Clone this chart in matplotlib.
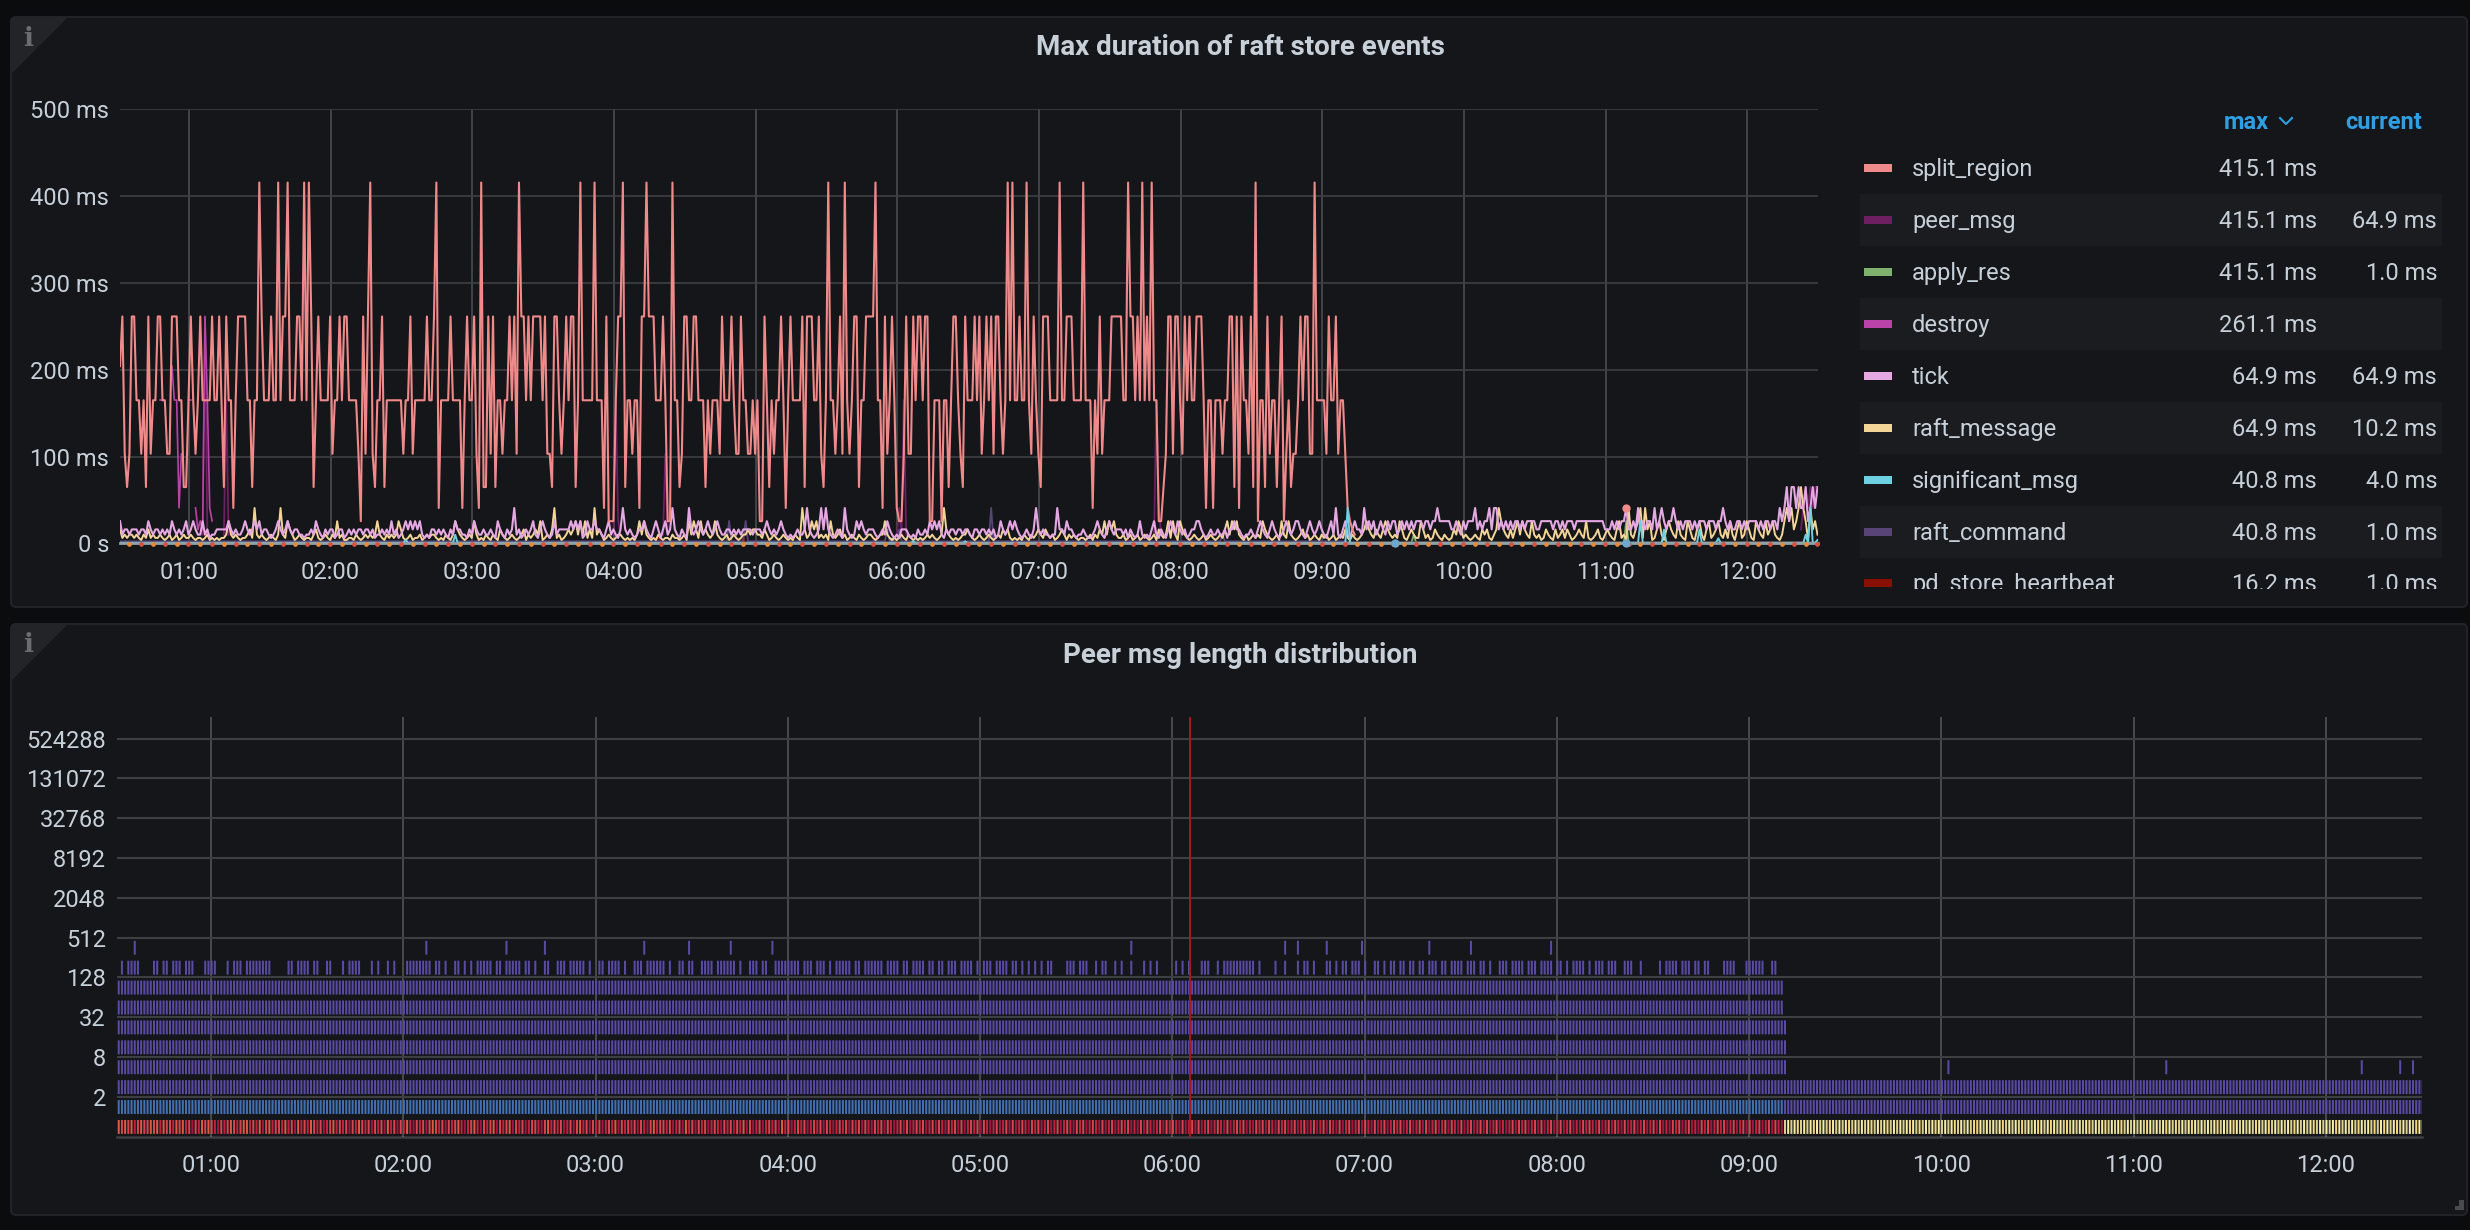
#-*- coding:utf-8 -*-
import numpy as np
import matplotlib
matplotlib.use("Agg")
import matplotlib.pyplot as plt
from matplotlib.patches import FancyBboxPatch, Polygon, Rectangle

plt.rcParams['font.family'] = ['Roboto', 'DejaVu Sans']

# level codes, the panel shows these bucket values only
levels = {'A': 415.1, 'B': 261.1, 'H': 204.0, 'C': 164.7, 'D': 103.2, 'E': 64.9, 'F': 40.8,
          'G': 25.7, 'I': 16.2, 'J': 10.2, 'K': 6.4, 'L': 4.0, 'M': 2.5, 'N': 1.0}

split_region = ("HBDEDBBCCD" "CEBDCCBBCC" "DDBBBCCEEC" "BCDCBCCCCB" "CCBCEBCCFC" "BBBBCCECCA" "BCCCBCCACB"
                "BACCCBBCAC" "ABECBCCCCB" "DCCBCBBCCC" "CDGBDB"
                "ADECCBECCC" "CCCCDCCBDC" "CCCCBCCBAF" "CCCCBCCCCF" "CBCCBDFAEE" "BDBECCDCCB" "CBDABBCBCB"
                "BBBCBDDEBB" "CDCBCBBECA" "CCCCCACCCF" "BGGGCB"
                "BAECCDCCFB" "BABBBCCCBC" "GGACCEDBBC" "CBBCCCECDC" "CCDBCCCBCD" "DBCCDDCDCG" "GBCECDCCBC"
                "FCBCCCCBEB" "BBCCBDECAC" "CDCBDACDCB" "BECCBB"
                "BBACCFBDCB" "CFGGDBDDBC" "BBCBBGGCCC" "GCCECBBCDE" "BCCCBCBDCB" "CBDBBCDCAC" "ACCBCCACDB"
                "CDEBBBCCCC" "ACCBBBCCCC" "ACCCFCDBDC" "CCBBBB"
                "BCCABBCBCA" "CBCACCGGED" "BBDBBCDBCB" "CCBBBCFCCF" "CCCDCCBBEB" "FBCCDBEAGC" "CEBDCCECBG"
                "DCEDDCBCBB" "DDACCCCDBC" "CBDCCDFGIJ")

tick = ("GJIIJIIIJI" "IJGIJIIJIJ" "IJGIJIJIGJ" "IGIJJGJIKJ" "JIIIIIGIJI" "JJIGIJIGIG" "JIIJKJIGIJ"
        "IGIJIIJJKJ" "JIJGIJKIJI" "IKJIIKJIJI" "JIIJII"
        "JIKJJIJIJG" "JIKJIGIGIG" "IGJKJKIIJI" "JIJKIJGIIJ" "JKIJGIJJIJ" "JIJKGIJKIJ" "IFJIKJIJIG"
        "JKIGIJKJGJ" "IIIIIGIGIG" "KJGIIGIIJK" "IGJIJK"
        "IFIJIJKJII" "GIJKIGIKIG" "JIFIJKIJKF" "IJIGIJIGIJ" "IGIJJIIJIJ" "IJIIIIJIII" "JIGIJIJIGI"
        "JKJKJIJJIF" "IJKJIFIFIJ" "KJIJKFIJKJ" "GIGIJI"
        "IIJKJIJGIJ" "KJKIIIJKJK" "IJJIJGIGIG" "JKIJIIJIIJ" "IIJKIIJIIJ" "IJIKJGIJIG" "IGIJKJIJKI"
        "FIJIJJKJJF" "IIJGIIJKJJ" "IJKKJIGIJK" "IGIJII"
        "IJIKIJKJGJ" "KJKIGJKIJK" "IGIJGIJIKJ" "IIGGIJKJIJ" "JIJJIKIIGI" "IJKJJIJKIG" "IJKIGIJKJI"
        "GIJIGGIJKI" "GIJIGIJKIG" "JFJKIGJKIG" "IIJFIG"
        "IGJIGIJGIG" "GJIGIGIGIG" "GGIGGIGGFG" "GGGGIIGIJG" "IGGGFIGIGG" "FIFFIGIGIG" "IGGIGIGGGG"
        "IIGGGGGIGG" "IGIGGGIGGG" "GGGGGGGGGI" "IIGIGIGGFI" "IGIFIGIGGI" "FIGFGIGGFG" "IGIGGGIGIG"
        "GGIGGGIGGF" "GIGIIGGIGI" "GGGGIGIGGI" "GGIFGFEGEE" "FEFFEGFEFE")

raft_message = ("IKJKJJKJKL" "JKIKJKKJKL" "KJLKJLKJKK" "JKLKKLKJLK" "LKLKKJGJKJ" "KLKKJIKFJK" "JKLKJKLJFJ"
                "KGIJLKJKLK" "KLJIKLKJKL" "JKGKJLLKKL" "JKLKJK"
                "JKJGJKLJKJ" "KJGIKLKJLK" "KJLKJKJJKL" "KLJKLJGIJK" "LKJKGJLKLJ" "KLJKLIJKLK" "JKLKJILJKJ"
                "IJGLKJKIFK" "JLKJIJIGJG" "JGKIKFJIJL" "KJKLKJ"
                "JKLKLKLJGJ" "GJKLKLJKLK" "KLJKKLKJLG" "JGIKGJIJKJ" "GJKLKJLKJK" "LKJJIJIIJJ" "KIJLKJKLKJ"
                "KLKLJKLFIK" "JGIGKJKJLG" "JKJIKJLKJK" "LJKLKJ"
                "JKLKJJGJKL" "KLKJKLJKLK" "LKLKJKJKLK" "JFIJKLKLKJ" "JIJKLKJKLK" "JKLKJKIJIK" "LKLKLJKLJK"
                "JIJKIJKJLK" "JIJLJKJKLK" "KLKJLJKIJG" "JGIGJK"
                "KJLKJLKJLK" "JKLKJLIJKJ" "GKGJLGIJKL" "KJKLKJLKJK" "LKJKIGJGIG" "JKLJLKJKJK" "GIJKLKJLGJ"
                "KGJKLKJIKJ" "LKJKLJKJLK" "JLKJKIKLJK" "LKJIGI"
                "JKIJKIGIJK" "JKGIKLJIJK" "KGIKJLKIJK" "LJKLKIJGIK" "JKLKJKLIJI" "KLJIFGIJKI" "KIGJGIJKGJ"
                "KJLKIJKLIK" "JIKIJLKJIJ" "KGKLKJIKLJ" "IJKLIGKJLF" "JKIGFKFIGL" "KIGJLIGIJK" "GJKLGIKLIG"
                "JLIGKJIGJK" "IKGJLIGKJG" "IKLGIJKGJI" "GJKLJGFGFI" "GFEFGLFIGJ")

nan = float('nan')
destroy_idx = [17, 18, 19, 22, 23, 24, 25, 26, 27, 29, 30, 31, 32, 33, 34, 35, 36, 37, 38, 39, 40]
destroy_val = [165, 165, nan, 204, 165, 165, 41, 103, nan, 165, 165, nan, 41, 16, 26, 16, 261, 165, 41, 26, nan]
peer_idx = [35, 36, 37, 44, 45, 46, 209, 210, 211, 212, 230, 231, 232, 329, 330, 331, 332, 333, 438, 439, 440, 441,
            712, 713, 714, 715, 716, 717, 718, 719]
peer_val = [10, 261, 10, 10, 165, 10, 10, 165, 26, 10, 10, 103, 10, 10, 41, 10, 165, 10, 10, 165, 41, 10,
            16, 41, 65, 41, 65, 41, 65, 65]
command_idx = [258, 265, 369, 325, 330, 467, 646]
command_val = [26, 26, 41, 16, 16, 10, 41]
significant_idx = [121, 142, 336, 358, 520, 644, 654, 669, 677, 714, 716, 719]
significant_val = [4, 10, 2.5, 2.5, 41, 26, 16, 16, 6, 10, 41, 4]
heartbeat_idx = [152, 228, 264, 320, 427, 560]
heartbeat_val = [6, 10, 6, 6, 4, 4]
apply_idx = [327, 548, 638]
apply_val = [6, 10, 26]

dots_orange = [4, 14, 24, 34, 44, 54, 64, 74, 84, 94, 104, 114, 124, 134, 144, 154, 164, 174, 184, 194, 204, 214, 224,
               234, 244, 254, 264, 274, 284, 294, 304, 314, 324, 334, 344, 354, 364, 374, 384, 394, 404, 414, 424,
               434, 444, 454, 464, 474, 484, 494, 504, 514, 524, 534, 544, 554, 564, 574, 584, 594, 604, 614, 624,
               634, 644, 654, 664, 674, 684, 694, 704, 714]
dots_red = [9, 19, 29, 39, 49, 59, 69, 79, 89, 99, 109, 119, 129, 139, 149, 159, 169, 179, 189, 199, 209, 219, 229,
            239, 249, 259, 269, 279, 289, 299, 309, 319, 329, 339, 349, 359, 369, 379, 389, 399, 409, 419, 429,
            439, 449, 459, 469, 479, 489, 499, 509, 519, 529, 539, 549, 559, 569, 579, 589, 599, 609, 619, 629,
            639, 649, 659, 669, 679, 689, 699, 709, 719]
dots_blue = [540, 638]
dot_split = [638]

legend_names = ['split_region', 'peer_msg', 'apply_res', 'destroy', 'tick', 'raft_message',
                'significant_msg', 'raft_command', 'pd_store_heartbeat']
legend_max = ['415.1 ms', '415.1 ms', '415.1 ms', '261.1 ms', '64.9 ms', '64.9 ms', '40.8 ms', '40.8 ms', '16.2 ms']
legend_current = ['', '64.9 ms', '1.0 ms', '', '64.9 ms', '10.2 ms', '4.0 ms', '1.0 ms', '1.0 ms']
legend_colors = ['#f08a8a', '#6d1f62', '#7eb26d', '#ba43a9', '#e5a8e2', '#f4d598', '#6ed0e0', '#584477', '#890f02']

hours = list(range(1, 13))
hour_labels = ['%02d:00' % h for h in hours]
top_yticks = [0, 100, 200, 300, 400, 500]
top_ylabels = ['0 s', '100 ms', '200 ms', '300 ms', '400 ms', '500 ms']
bottom_yticks = [2, 8, 32, 128, 512, 2048, 8192, 32768, 131072, 524288]

# heatmap, first column of each bucket row given by index
row8_cols = [1, 3, 4, 5, 6, 11, 12, 14, 15, 17, 18, 19, 21, 22, 23, 27, 28, 29, 30, 34, 36, 37, 38, 40, 41, 42, 43, 44,
             45, 46, 47, 53, 54, 56, 57, 58, 59, 61, 62, 65, 66, 70, 72, 73, 74, 75, 79, 81, 84, 86, 90, 91, 92, 93,
             94, 95, 96, 97, 99, 100, 102, 105, 106, 108, 110, 112, 113, 114, 115, 116, 118, 119,
             121, 122, 123, 124, 125, 127, 128, 130, 133, 134, 137, 138, 139, 141, 142, 143, 144, 145, 147, 150, 151,
             153, 154, 155, 156, 158, 161, 162, 163, 165, 166, 167, 168, 169, 170, 172, 175, 176, 178, 179, 182, 183,
             184, 185, 187, 188, 189, 190, 191, 192, 194, 197, 198, 199, 201, 202, 205, 206, 207, 208, 209, 210, 211,
             212, 214, 215, 216, 218, 219, 220, 222, 224, 225, 226, 227, 228, 230, 231, 233, 234, 235, 236, 237, 238,
             240, 241, 242, 243, 245, 246, 248, 249, 250, 251, 253, 254, 256, 257, 259, 260, 261, 263, 264, 265, 266,
             268, 270, 271, 272, 274, 275, 276, 277, 279, 280, 282, 284, 286, 288, 290, 291, 296, 297, 298, 300, 301,
             302, 305, 307, 308, 311, 313, 316, 320, 322, 324, 330, 332, 334, 338, 339, 340, 343, 345, 346, 347, 348,
             349, 350, 351, 352, 353, 354, 356, 361, 364, 368, 370, 371, 373, 377, 378, 380, 382, 383, 385, 386, 387,
             389, 392, 393, 395, 397, 398, 400, 401, 403, 404, 406, 407, 409, 410, 411, 413, 414, 416, 417, 418, 419,
             421, 422, 423, 425, 426, 428, 431, 432, 433, 435, 436, 437, 438, 440, 441, 442, 444, 445, 446, 447, 449,
             450, 452, 454, 455, 456, 457, 459, 461, 462, 463, 465, 466, 467, 470, 471, 472, 475, 481, 483, 484, 485,
             486, 488, 489, 490, 492, 493, 495, 496, 501, 502, 503, 504, 508, 509, 510, 511, 512, 513, 516, 517]
row9_cols = [5, 96, 121, 133, 164, 178, 191, 204, 316, 364, 368, 377, 388, 409, 422, 447]
row3_extra_cols = [571, 639, 700, 712, 716]
red_end = 519       # last column of the red/blue pair of rows
upper_end = 520
total_cols = 720

red_shades = ("3232312322" "3231322132" "3120213232" "1021232123" "3121302312" "2131203121" "3212012312"
              "1202132120" "2120312021" "3102120232" "1202123101" "2310212302" "1230212012" "2102312120"
              "1202312021" "2012130212" "1202102312" "2120120312" "0212012102" "1202130201" "2012120312"
              "0121201212" "0210121202" "1202102120" "2101202012" "1201202102" "1202012120" "2101201202"
              "0121021201" "2012012102" "1201210201" "2012120102" "0210120212" "1020120201" "2012102012"
              "1201021202" "1021201201" "2012012021" "0201201202" "1020120121" "2012012020" "1201202102"
              "0120120201" "2010120212" "0120201201" "2012010212" "1020120210" "2012012012" "0201021201"
              "2010212012" "1201201202" "0120120210")
yellow_shades = ("0101201012" "1010210101" "2010101201" "0120101012" "1020101210" "1012010102" "2101010120"
                 "1010201012" "1012101020" "1010120101" "2010120101" "0102101012" "1020101210" "1010120101"
                 "2101010210" "1201010102" "1010120101" "0121010102" "1010201210" "1201010210")
red_palette = {'0': '#a3163f', '1': '#c0233f', '2': '#d94450', '3': '#e05a40'}
yellow_palette = {'0': '#d9cf8f', '1': '#f7eea6', '2': '#f6d77c'}
purple = '#5a4aa6'
blue = '#4270b4'

bg_color = '#0b0c0e'
panel_color = '#141619'
border_color = '#212327'
grid_color = '#3e3f43'
vgrid_color = '#4b4c50'
text_color = '#c7d0d9'
blue_text = '#2f9fe3'


def decode(codes):
    return np.array([levels[c] for c in codes])


def sparse(idx, val, base=nan):
    out = np.full(total_cols, base, dtype=float)
    out[idx] = val
    return out


fig = plt.figure(figsize=(24.7, 12.3), dpi=100, facecolor=bg_color)
bg = fig.add_axes([0, 0, 1, 1])
bg.set_xlim(0, 2470)
bg.set_ylim(1230, 0)
bg.axis('off')

for top, bottom in [(17, 607), (624, 1215)]:
    bg.add_patch(FancyBboxPatch((11, top), 2456, bottom - top, boxstyle='round,pad=0,rounding_size=5',
                                fc=panel_color, ec=border_color, lw=1.5))
    bg.add_patch(Polygon([(12, top + 1), (67, top + 1), (12, top + 56)], fc='#222428', ec='none'))
    bg.text(28, top + 21, 'i', family='DejaVu Serif', weight='bold', fontsize=19, color='#6a6c70',
            ha='center', va='center')

bg.add_patch(Polygon([(2464, 1200), (2464, 1210), (2455, 1210), (2455, 1206), (2459, 1206), (2459, 1200)],
                     fc='#4a4b4e', ec='none'))

bg.text(1240, 47.5, 'Max duration of raft store events', fontsize=20, weight='bold', color=text_color,
        ha='center', va='center')
bg.text(1240, 655.5, 'Peer msg length distribution', fontsize=20, weight='bold', color=text_color,
        ha='center', va='center')

# legend table of the first panel
row_centers = [168, 220, 272, 324, 376, 428, 480, 532, 583]
legend_clip = Rectangle((1850, 130), 600, 459, transform=bg.transData)
bg.text(2224, 122.5, 'max', fontsize=17, weight='bold', color=blue_text, ha='left', va='center')
bg.plot([2280, 2286, 2292], [118, 124, 118], color=blue_text, lw=1.5)
bg.text(2422, 122.5, 'current', fontsize=17, weight='bold', color=blue_text, ha='right', va='center')
for i, name in enumerate(legend_names):
    y = row_centers[i]
    if i % 2 == 1:
        bg.add_patch(Rectangle((1860, y - 26), 582, 52, fc='#1a1c20', ec='none'))
    swatch = Rectangle((1864, y - 4), 28, 8, fc=legend_colors[i], ec='none')
    bg.add_patch(swatch)
    swatch.set_clip_path(legend_clip)
    for x, label, ha in [(1912, name, 'left'), (2317, legend_max[i], 'right'), (2437, legend_current[i], 'right')]:
        t = bg.text(x, y + 1.5, label, fontsize=17, color=text_color, ha=ha, va='center', clip_on=True)
        t.set_clip_path(legend_clip)

# first panel
W, H = 2470.0, 1230.0
ax = fig.add_axes([120 / W, 1 - 543.5 / H, (1818 - 120) / W, (543.5 - 108.7) / H])
ax.patch.set_alpha(0)
ax.set_xlim(0.513, 12.5)
ax.set_ylim(0, 500)
times = 0.513 + np.arange(total_cols) / 60.0

ax.plot(times, sparse(apply_idx, apply_val, 1.0), color=legend_colors[2], lw=1.3, zorder=3)
ax.plot(times, sparse(heartbeat_idx, heartbeat_val, 1.0), color=legend_colors[8], lw=1.3, zorder=3)
command = sparse(command_idx, command_val, 2.5)
command[521:] = 1.0
ax.plot(times, command, color=legend_colors[7], lw=1.3, zorder=3)
ax.plot(times, sparse(peer_idx, peer_val), color=legend_colors[1], lw=1.3, zorder=3)
ax.plot(times, sparse(destroy_idx, destroy_val), color=legend_colors[3], lw=1.2, zorder=3)
ax.plot(times, decode(raft_message), color=legend_colors[5], lw=1.4, zorder=4)
ax.plot(times, decode(tick), color=legend_colors[4], lw=1.5, zorder=5)
ax.plot(times[:len(split_region)], decode(split_region), color=legend_colors[0], lw=1.5, zorder=6)
ax.plot(times, sparse(significant_idx, significant_val, 0.8), color=legend_colors[6], lw=1.4, zorder=6)
ax.axhline(0.8, color='#8ea3a8', lw=2.0, zorder=6, clip_on=False)
ax.plot(times[dots_orange], np.zeros(len(dots_orange)), 'o', ms=3.4, color='#e98a3a', mew=0, zorder=7, clip_on=False)
ax.plot(times[dots_red], np.zeros(len(dots_red)), 'o', ms=3.4, color='#d9503f', mew=0, zorder=7, clip_on=False)
ax.plot(times[dots_blue], np.full(len(dots_blue), 1.0), 'o', ms=6, color='#6fa8cf', mew=0, zorder=8, clip_on=False)
ax.plot(times[dot_split], [40.8], 'o', ms=6, color=legend_colors[0], mew=0, zorder=8)

ax.set_xticks(hours)
ax.set_xticklabels(hour_labels)
ax.set_yticks(top_yticks)
ax.set_yticklabels(top_ylabels)

# second panel
ax2 = fig.add_axes([117 / W, 1 - 1136.7 / H, (2422 - 117) / W, (1136.7 - 717) / H])
ax2.patch.set_alpha(0)
ax2.set_yscale('log', base=2)
ax2.set_xlim(0.511, 12.5)
ax2.set_ylim(0.5, 2 ** 20.08)
col_times = 0.52 + np.arange(total_cols) / 60.0


def draw_row(k, cols, colors, width=1.45):
    lo = 0.5 * 2 ** k
    stripes = ax2.vlines(col_times[cols], lo * 2 ** 0.14, lo * 2 * 2 ** -0.16, colors=colors, lw=width,
                         capstyle='butt', zorder=3)
    # no pixel snapping, the stripes should blend at this width like the browser does
    stripes.set_snap(False)


shades = [red_palette[c] for c in red_shades[:red_end + 1]] + [yellow_palette[c] for c in yellow_shades]
draw_row(0, np.arange(total_cols), shades)
draw_row(1, np.arange(total_cols), [blue] * (red_end + 1) + [purple] * (total_cols - red_end - 1))
draw_row(2, np.arange(total_cols), purple)
draw_row(3, list(range(upper_end + 1)) + row3_extra_cols, purple)
draw_row(4, np.arange(upper_end + 1), purple)
draw_row(5, np.arange(upper_end + 1), purple)
draw_row(6, np.arange(red_end + 1), purple)
draw_row(7, np.arange(red_end + 1), purple)
draw_row(8, row8_cols, purple)
draw_row(9, row9_cols, purple)

ax2.axvline(1 + (1190 - 211) / 192.3, color='#a5191f', lw=1.4, zorder=5)
ax2.set_xticks(hours)
ax2.set_xticklabels(hour_labels)
ax2.yaxis.set_major_locator(matplotlib.ticker.FixedLocator(bottom_yticks))
ax2.yaxis.set_major_formatter(matplotlib.ticker.FixedFormatter([str(v) for v in bottom_yticks]))
ax2.yaxis.set_minor_locator(matplotlib.ticker.NullLocator())
ax2.axhline(0.5, color=grid_color, lw=1.8, zorder=2, clip_on=False)

for a in (ax, ax2):
    for s in a.spines.values():
        s.set_visible(False)
    a.tick_params(axis='both', length=0, labelsize=17, labelcolor=text_color)
    a.tick_params(axis='x', pad=12.5)
    a.tick_params(axis='y', pad=8)
    a.set_axisbelow(True)
    a.grid(True, axis='y', color=grid_color, lw=1.2)
ax.grid(True, axis='x', color=vgrid_color, lw=1.2)
ax2.grid(True, axis='x', color='#ffffff', alpha=0.24, lw=1.3, zorder=4)
ax2.set_axisbelow(False)
ax2.grid(True, axis='y', color=grid_color, lw=1.5)

fig.savefig('out.png', dpi=100, facecolor=bg_color)
